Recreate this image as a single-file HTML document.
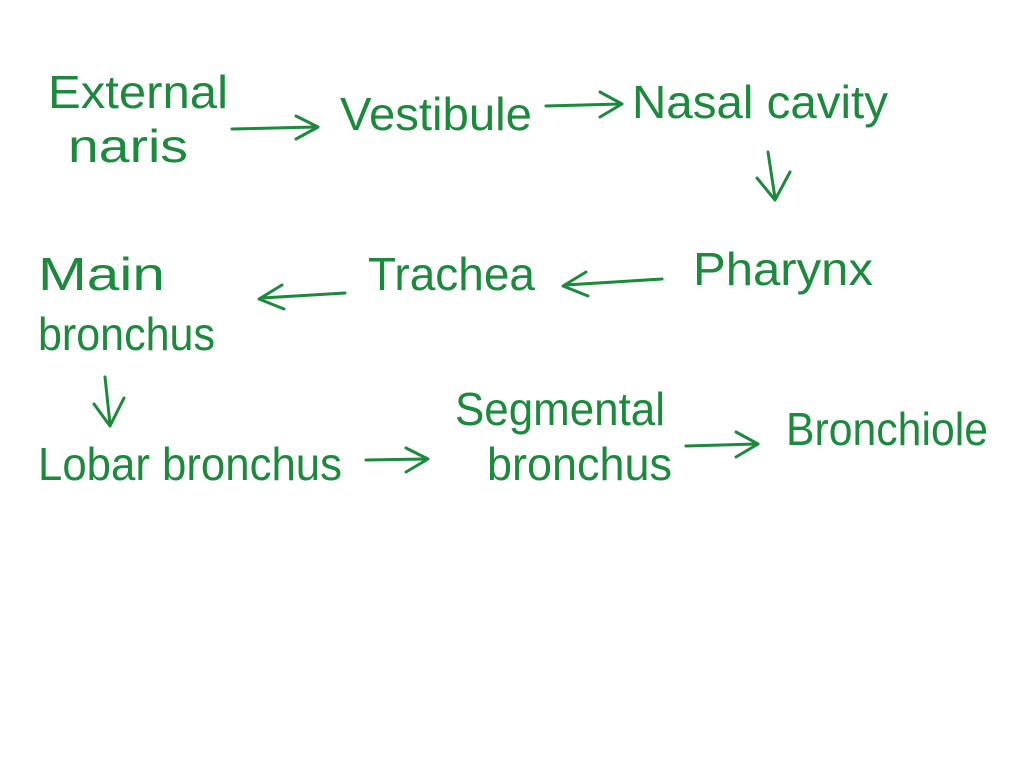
<!DOCTYPE html>
<html><head><meta charset="utf-8"><style>
html,body{margin:0;padding:0;background:#fff;}
svg{display:block;}
text{font-family:"Liberation Sans",sans-serif;fill:#1b8a3c;font-size:46px;}
.l{stroke:#1b8a3c;stroke-width:3;fill:none;stroke-linecap:round;stroke-linejoin:round;}
</style></head><body>
<svg width="1024" height="768" viewBox="0 0 1024 768" xmlns="http://www.w3.org/2000/svg">
<rect width="1024" height="768" fill="#fff"/>
<text x="48" y="108" textLength="180" lengthAdjust="spacingAndGlyphs" font-size="52">External</text>
<text x="68" y="162" textLength="120" lengthAdjust="spacingAndGlyphs">naris</text>
<path class="l" d="M232 129 L316 127 M296 116 L318 127 L296 139"/>
<text x="340" y="130" textLength="192" lengthAdjust="spacingAndGlyphs">Vestibule</text>
<path class="l" d="M546 106 L620 104 M600 92 L622 104 L600 117"/>
<text x="632" y="118" textLength="256" lengthAdjust="spacingAndGlyphs" font-size="50">Nasal cavity</text>
<path class="l" d="M768 152 L775 198 M757 178 L775 200 L790 172"/>
<text x="693" y="285" textLength="180" lengthAdjust="spacingAndGlyphs" font-size="50">Pharynx</text>
<path class="l" d="M662 279 L566 285 M586 272 L563 286 L588 296"/>
<text x="368" y="290" textLength="167" lengthAdjust="spacingAndGlyphs">Trachea</text>
<path class="l" d="M345 293 L262 298 M282 285 L259 299 L284 309"/>
<text x="38" y="290" textLength="127" lengthAdjust="spacingAndGlyphs">Main</text>
<text x="38" y="350" textLength="177" lengthAdjust="spacingAndGlyphs">bronchus</text>
<path class="l" d="M105 377 L110 424 M94 404 L110 426 L124 398"/>
<text x="38" y="480" textLength="304" lengthAdjust="spacingAndGlyphs">Lobar bronchus</text>
<path class="l" d="M366 460 L426 459 M406 448 L428 459 L406 472"/>
<text x="455" y="425" textLength="210" lengthAdjust="spacingAndGlyphs">Segmental</text>
<text x="487" y="480" textLength="185" lengthAdjust="spacingAndGlyphs">bronchus</text>
<path class="l" d="M686 446 L756 444 M736 432 L758 444 L736 457"/>
<text x="786" y="445" textLength="202" lengthAdjust="spacingAndGlyphs">Bronchiole</text>
</svg>
</body></html>
